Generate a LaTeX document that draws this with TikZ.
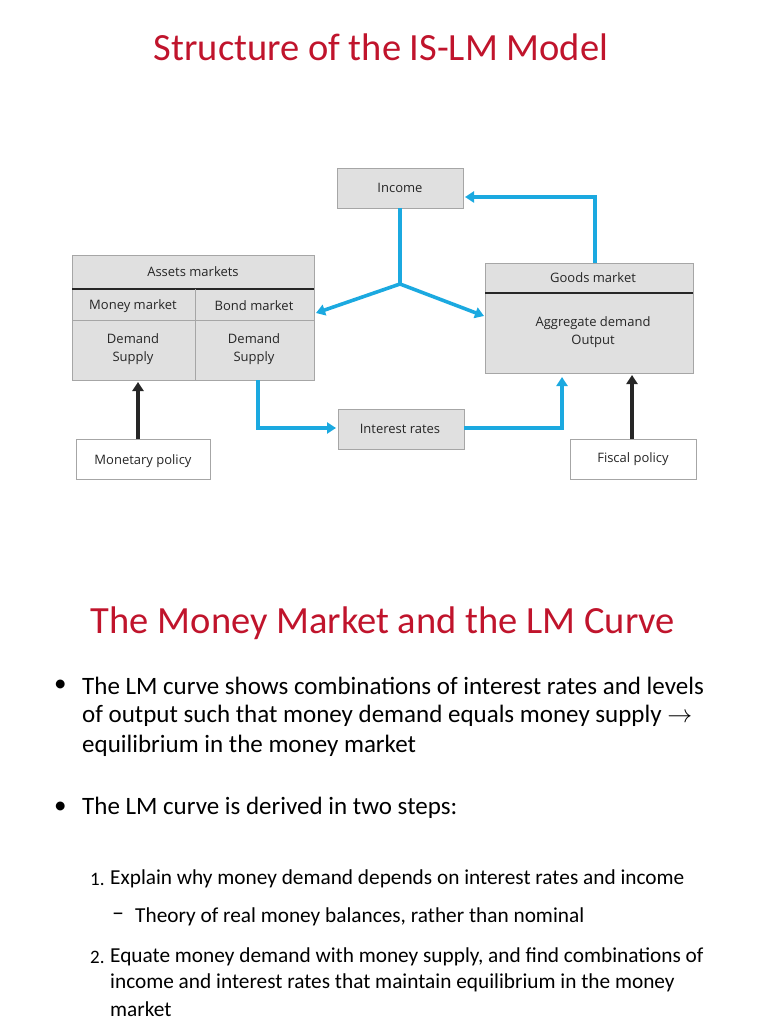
\documentclass[tikz,border=0pt]{standalone}
\usepackage{fontspec}
\setmainfont{Carlito}
\newfontfamily\diagfont{Open Sans}
\usetikzlibrary{arrows.meta}
\definecolor{titlered}{HTML}{C0142C}
\definecolor{flow}{HTML}{1BA9E0}
\definecolor{boxgray}{HTML}{E0E0E0}
\begin{document}
\begin{tikzpicture}[x=1pt,y=-1pt,
  gbox/.style={draw=gray!70,fill=boxgray,line width=0.8pt},
  wbox/.style={draw=gray!70,fill=white,line width=0.8pt},
  lab/.style={font=\diagfont\fontsize{13}{17.5}\selectfont,align=center,text=black!85},
  flowline/.style={draw=flow,line width=3.6pt,-{Triangle[length=9pt,width=11pt]}},
  blackline/.style={draw=black!85,line width=3.6pt,-{Triangle[length=9pt,width=11pt]}},
  title/.style={text=titlered,font=\fontsize{38.5}{44}\selectfont},
  body/.style={anchor=west,font=\fontsize{25}{28}\selectfont,inner sep=0pt},
  small/.style={anchor=west,font=\fontsize{21.3}{26}\selectfont,inner sep=0pt}]
\useasboundingbox (0,0) rectangle (768,1024);
\node[title] (t1) at (381,47) {Structure of the IS-LM Model};
% boxes
\draw[gbox] (337,168) rectangle (463,208);
\node[lab] (inc) at (400,188) {Income};
\coordinate (incb) at (400,208);
\draw[gbox] (72,255) rectangle (314,380);
\draw[black!85,line width=1.8pt] (72,289) -- (314,289);
\draw[gray!70,line width=1pt] (72,320) -- (314,320);
\draw[gray!70,line width=1pt] (195,289) -- (195,380);
\node[lab] (am) at (193,272) {Assets markets};
\node[lab] (mm) at (133,306) {Money market};
\node[lab] (bm) at (254,306) {Bond market};
\node[lab] (mds) at (133,349) {Demand\\Supply};
\node[lab] (bds) at (254,349) {Demand\\Supply};
\draw[gbox] (485,263) rectangle (693,373);
\draw[black!85,line width=1.8pt] (485,293) -- (693,293);
\node[lab] (gm) at (593,278) {Goods market};
\node[lab] (ad) at (593,332) {Aggregate demand\\Output};
\draw[gbox] (338,409) rectangle (464,449);
\node[lab] (ir) at (400,429) {Interest rates};
\draw[wbox] (76,439) rectangle (210,479);
\node[lab] (mp) at (143,461) {Monetary policy};
\draw[wbox] (570,439) rectangle (696,479);
\node[lab] (fp) at (633,459) {Fiscal policy};
% connectors
\coordinate (fork) at (400,284);
\draw[draw=flow,line width=3.6pt,line join=round] (incb) -- (fork);
\draw[flowline] (fork) -- (316,313);
\draw[flowline] (fork) -- (484,316);
\draw[flowline] (595,263) |- (465,197);
\draw[flowline] (258,380) |- (336,428);
\draw[flowline] (464,428) -| (562,377);
\draw[blackline] (138,439) -- (138,382);
\draw[blackline] (632,439) -- (632,375);
% slide 2
\node[title] (t2) at (383,623) {The Money Market and the LM Curve};
\node[body] (b1) at (54,686) {•};
\node[body] (l1) at (82,686) {The LM curve shows combinations of interest rates and levels};
\node[body] (l2) at (82,716) {of output such that money demand equals money supply $\rightarrow$};
\node[body] (l3) at (82,746) {equilibrium in the money market};
\node[body] (b2) at (54,808) {•};
\node[body] (l4) at (82,808) {The LM curve is derived in two steps:};
\node[small,font=\fontsize{19}{24}\selectfont] (n1n) at (90,879) {1.};
\node[small] (n1) at (110,879) {Explain why money demand depends on interest rates and income};
\node[small,font=\fontsize{24}{26}\selectfont] (d1) at (112,917) {–};
\node[small] (d1t) at (135,917) {Theory of real money balances, rather than nominal};
\node[small,font=\fontsize{19}{24}\selectfont] (n2n) at (90,957) {2.};
\node[small] (n2) at (110,957) {Equate money demand with money supply, and find combinations of};
\node[small] (n2b) at (110,983) {income and interest rates that maintain equilibrium in the money};
\node[small] (n2c) at (110,1009) {market};
\end{tikzpicture}
\end{document}
